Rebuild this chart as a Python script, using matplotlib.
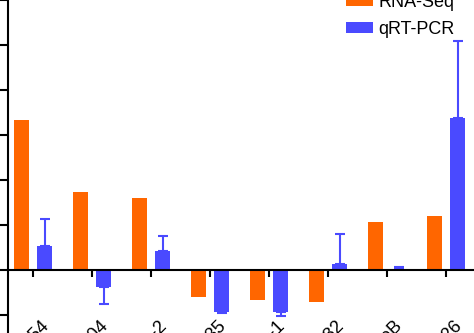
import matplotlib
matplotlib.use("Agg")
import matplotlib.pyplot as plt
import numpy as np

plt.rcParams['font.family'] = ['Liberation Sans', 'DejaVu Sans']

genes = ["Gene-54", "Gene-04", "Gene-2", "Gene-35", "Gene-1", "Gene-82", "GeneB", "Gene-26"]
rna_seq = [3.33, 1.73, 1.60, -0.60, -0.67, -0.71, 1.07, 1.20]
qrt_pcr = [0.53, -0.38, 0.42, -0.93, -0.93, 0.13, 0.02, 3.38]
qrt_err = [0.60, 0.37, 0.34, 0.03, 0.09, 0.67, 0.05, 1.71]

W, H = 474, 333
fig = plt.figure(figsize=(W / 100, H / 100), dpi=100)

px_unit = 45.0
zero_y = 63.0  # pixels from bottom
ymin, ymax = -2.0, 6.5
xstep = 59.0
x0 = 33.0
xmin = (8 - x0) / xstep
xmax = 7.6
ax = fig.add_axes([8 / W, (zero_y + ymin * px_unit) / H,
                   (xmax - xmin) * xstep / W, (ymax - ymin) * px_unit / H])

x = np.arange(len(genes))
off = 0.195
bw = 0.25
orange = '#FF6600'
blue = '#4A4AFF'
ax.bar(x - off, rna_seq, bw, color=orange, label='RNA-Seq')
ax.bar(x + off, qrt_pcr, bw, color=blue, label='qRT-PCR')
# one-sided error bars (away from zero)
lower = [e if v < 0 else 0 for v, e in zip(qrt_pcr, qrt_err)]
upper = [e if v >= 0 else 0 for v, e in zip(qrt_pcr, qrt_err)]
ax.errorbar(x + off, qrt_pcr, yerr=[lower, upper], fmt='none', ecolor=blue,
            elinewidth=1.5, capsize=3.5, capthick=1.5)

ax.set_xlim(xmin, xmax)
ax.set_ylim(ymin, ymax)
ax.spines['top'].set_visible(False)
ax.spines['right'].set_visible(False)
ax.spines['bottom'].set_position(('data', 0))
ax.spines['left'].set_linewidth(1.5)
ax.spines['bottom'].set_linewidth(1.5)
ax.set_yticks(np.arange(-1, 7, 1))
ax.set_yticklabels([])
ax.tick_params(axis='y', direction='out', length=8, width=1.5)
ax.tick_params(axis='x', direction='out', length=5, width=1.5)
ax.set_xticks(x)
ax.set_xticklabels([])
for xi, g in zip(x, genes):
    ax.annotate(g, xy=(xi, 0), xycoords='data', xytext=(5, -34), textcoords='offset points',
                rotation=45, ha='right', va='top', rotation_mode='anchor', fontsize=13,
                annotation_clip=False)

leg = ax.legend(loc='lower left', bbox_to_anchor=(346 / W, (H - 38) / H),
                bbox_transform=fig.transFigure, frameon=False, fontsize=13,
                handlelength=1.5, handleheight=0.6, handletextpad=0.3,
                labelspacing=0.55, borderpad=0, borderaxespad=0)

fig.savefig('out.png', dpi=100)
